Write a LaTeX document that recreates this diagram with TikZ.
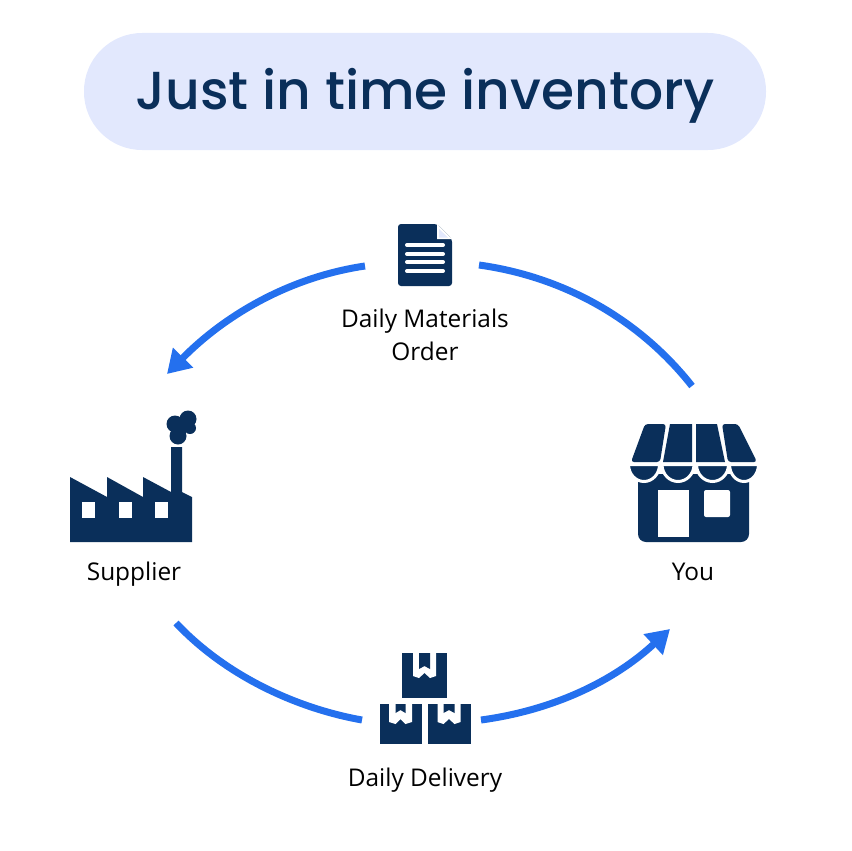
\documentclass[tikz,border=0pt]{standalone}
\usepackage{fontspec}
\setmainfont{Open Sans}
\newfontfamily\titlefont{Poppins Medium}
\usetikzlibrary{arrows.meta}
\definecolor{navy}{HTML}{0A2F5A}
\definecolor{flow}{HTML}{2470EE}
\definecolor{pill}{HTML}{E2E8FD}
\tikzset{
  lab/.style={text=black,font=\fontsize{24.4}{33}\selectfont,align=center,inner sep=0pt},
  flowline/.style={draw=flow,line width=7pt},
  flowarrow/.style={flowline,-{Triangle[length=23pt,width=27pt]}},
  icon/.style={fill=navy,draw=none},
  gap/.style={fill=white,draw=none}
}
\begin{document}
\begin{tikzpicture}[x=1pt,y=-1pt]
  \useasboundingbox (0,0) rectangle (851,851);
  % title
  \fill[pill,rounded corners=58pt] (84,33) rectangle (766,150);
  \node (title) at (425,96) [text=navy,font=\titlefont\fontsize{53.5}{60}\selectfont,inner sep=0pt] {Just in time inventory};
  % labels
  \node[lab] (order) at (425,335) {Daily Materials\\Order};
  \node[lab] (supplier) at (134,574) {Supplier};
  \node[lab] (you) at (693,572) {You};
  \node[lab] (delivery) at (425,780) {Daily Delivery};
  % arrows
  \coordinate (orderL) at (365,266);
  \coordinate (orderR) at (479,265);
  \coordinate (supplierT) at (167,374);
  \coordinate (supplierB) at (176,623);
  \coordinate (youT) at (692,386);
  \coordinate (youB) at (670,629);
  \coordinate (deliveryL) at (362,720);
  \coordinate (deliveryR) at (481,720);
  \draw[flowline] (orderR) .. controls (565,277) and (640,320) .. (youT);
  \draw[flowarrow] (orderL) .. controls (290,277) and (225,315) .. (supplierT);
  \draw[flowline] (supplierB) .. controls (225,675) and (295,708) .. (deliveryL);
  \draw[flowarrow] (deliveryR) .. controls (555,710) and (615,680) .. (youB);
  % document
  \fill[icon,rounded corners=3pt] (398,224) -- (437,224) -- (452,239) -- (452,286) -- (398,286) -- cycle;
  \fill[gap] (437,224) -- (452,239) -- (437,239) -- cycle;
  \fill[pill] (439,229) -- (448,237.5) -- (439,237.5) -- cycle;
  \foreach \y in {245,254,262,271}
    \draw[white,line width=4pt,line cap=round] (407,\y) -- (443,\y);
  % factory
  \fill[icon] (70,477) -- (107,497) -- (107,477) -- (143,497) -- (143,477) -- (171,492) -- (171,447) -- (182,447) -- (182,492) -- (192,497) -- (192,542) -- (70,542) -- cycle;
  \foreach \x in {82,119,155}
    \fill[gap] (\x,502) rectangle +(13,16);
  \fill[icon] (178,436) circle (8.5) (175,424) circle (8.5) (188,419) circle (8.5) (190,428) circle (6) (181,428) circle (6);
  % shop
  \fill[icon,rounded corners=8pt] (638,474) -- (749,474) -- (749,542) -- (638,542) -- cycle;
  \fill[icon,rounded corners=3pt] (631,462) -- (645,424) -- (666,424) -- (660,462) -- cycle;
  \fill[icon] (670,424) -- (692,424) -- (692,462) -- (663,462) -- cycle;
  \fill[icon] (696,424) -- (717,424) -- (725,462) -- (696,462) -- cycle;
  \fill[icon,rounded corners=3pt] (722,424) -- (738,424) -- (757,462) -- (728,462) -- cycle;
  \foreach \x/\w in {644/15.5,678/16,712.5/16,744/14.5}
    \filldraw[fill=navy,draw=white,line width=3pt] (\x-\w,464.5) -- (\x+\w,464.5) arc[start angle=0,end angle=180,x radius=\w,y radius=17] -- cycle;
  \fill[gap] (658,490) rectangle (689,537);
  \fill[gap,rounded corners=2pt] (704,490) rectangle (730,517);
  % boxes
  \foreach \x/\y/\wd/\ht/\cx/\hw/\hi/\dp/\ty in {402/653/45/45/424.5/11.5/5.5/25/16,380/704/42/40/400.5/11.5/5/20/9,428/704/43/40/449/11.5/5.5/20/9}{
    \fill[icon] (\x,\y) rectangle +(\wd,\ht);
    \fill[gap] (\cx-\hw,\y) -- (\cx-\hw,\y+\dp-2) -- (\cx-\hi,\y+\dp) -- (\cx,\y+\dp-5) -- (\cx+\hi,\y+\dp) -- (\cx+\hw,\y+\dp-2) -- (\cx+\hw,\y) -- cycle;
    \fill[icon] (\cx-\hi,\y) -- (\cx-\hi,\y+\ty) -- (\cx,\y+\ty-3) -- (\cx+\hi,\y+\ty) -- (\cx+\hi,\y) -- cycle;
  }
\end{tikzpicture}
\end{document}
